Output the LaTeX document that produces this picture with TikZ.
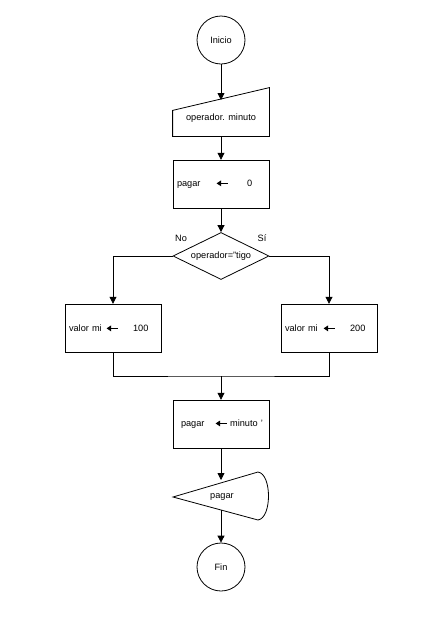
\documentclass[tikz,border=0pt]{standalone}
\usepackage{fontspec}
\setmainfont{Liberation Sans}
\usetikzlibrary{shapes.geometric,arrows.meta,positioning,calc}

\newcommand{\asig}{\tikz[baseline=-0.6ex]\draw[line width=1.1pt,-{Triangle[length=4.5pt,width=5.5pt]}] (11pt,0pt) -- (0pt,0pt);}

\begin{document}
\begin{tikzpicture}[x=1pt,y=-1pt,line width=0.8pt,
  font=\fontsize{9.2}{11}\selectfont,
  term/.style={draw,circle,minimum size=48pt,inner sep=0pt},
  caja/.style={draw,minimum height=48pt,text width=88pt,inner xsep=4pt,inner ysep=0pt,align=left},
  rombo/.style={draw,diamond,aspect=2,minimum width=96pt,minimum height=47pt,inner sep=0pt},
  flecha/.style={-{Triangle[length=7pt,width=7pt]}}]
\useasboundingbox (0,0) rectangle (440,622);

\node[term] (inicio) at (221,40) {Inicio};

% entrada manual
\node[minimum width=96pt,minimum height=48pt,inner sep=0pt] (leer) at (221,112) {};
\node at (221,118) {operador. minuto};
\draw (leer.south west) -- (leer.south east) -- (leer.north east) -- ($(leer.south west)+(0,-26)$) -- cycle;
\coordinate (leer top) at (221,100);

\node[caja] (pago) at (221,184) {\makebox[39pt][l]{pagar}\asig\hspace{19pt}0};
\node[rombo] (decision) at (221,256) {operador="tigo};
\node at (181,238) {No};
\node at (262,238) {Sí};

\node[caja] (izq) at (113,328) {\makebox[37pt][l]{valor mi}\asig\hspace{15pt}100};
\node[caja] (der) at (329,328) {\makebox[38pt][l]{valor mi}\asig\hspace{15pt}200};
\coordinate (junta) at (221,376);

\node[caja] (calc) at (221,424) {\hspace*{4pt}\makebox[34pt][l]{pagar}\asig\hspace{3pt}minuto '};

% pantalla
\node[minimum width=96pt,minimum height=48pt,inner sep=0pt] (salida) at (221,496) {};
\node at (222,497) {pagar};
\draw (173,497) -- (258,472) .. controls (272,474) and (272,518) .. (258,520) -- cycle;
\coordinate (salida top) at (221,480);
\coordinate (salida bot) at (221,510);

\node[term] (fin) at (221,567) {Fin};

\draw[flecha] (inicio) -- (leer top);
\draw[flecha] (leer) -- (pago);
\draw[flecha] (pago) -- (decision);
\draw[flecha] (decision.west) -| (izq.north);
\draw[flecha] (decision.east) -| (der.north);
\draw (izq.south) |- (junta) -| (der.south);
\draw[flecha] (junta) -- (calc);
\draw[flecha] (calc) -- (salida top);
\draw[flecha] (salida bot) -- (fin);
\end{tikzpicture}
\end{document}
